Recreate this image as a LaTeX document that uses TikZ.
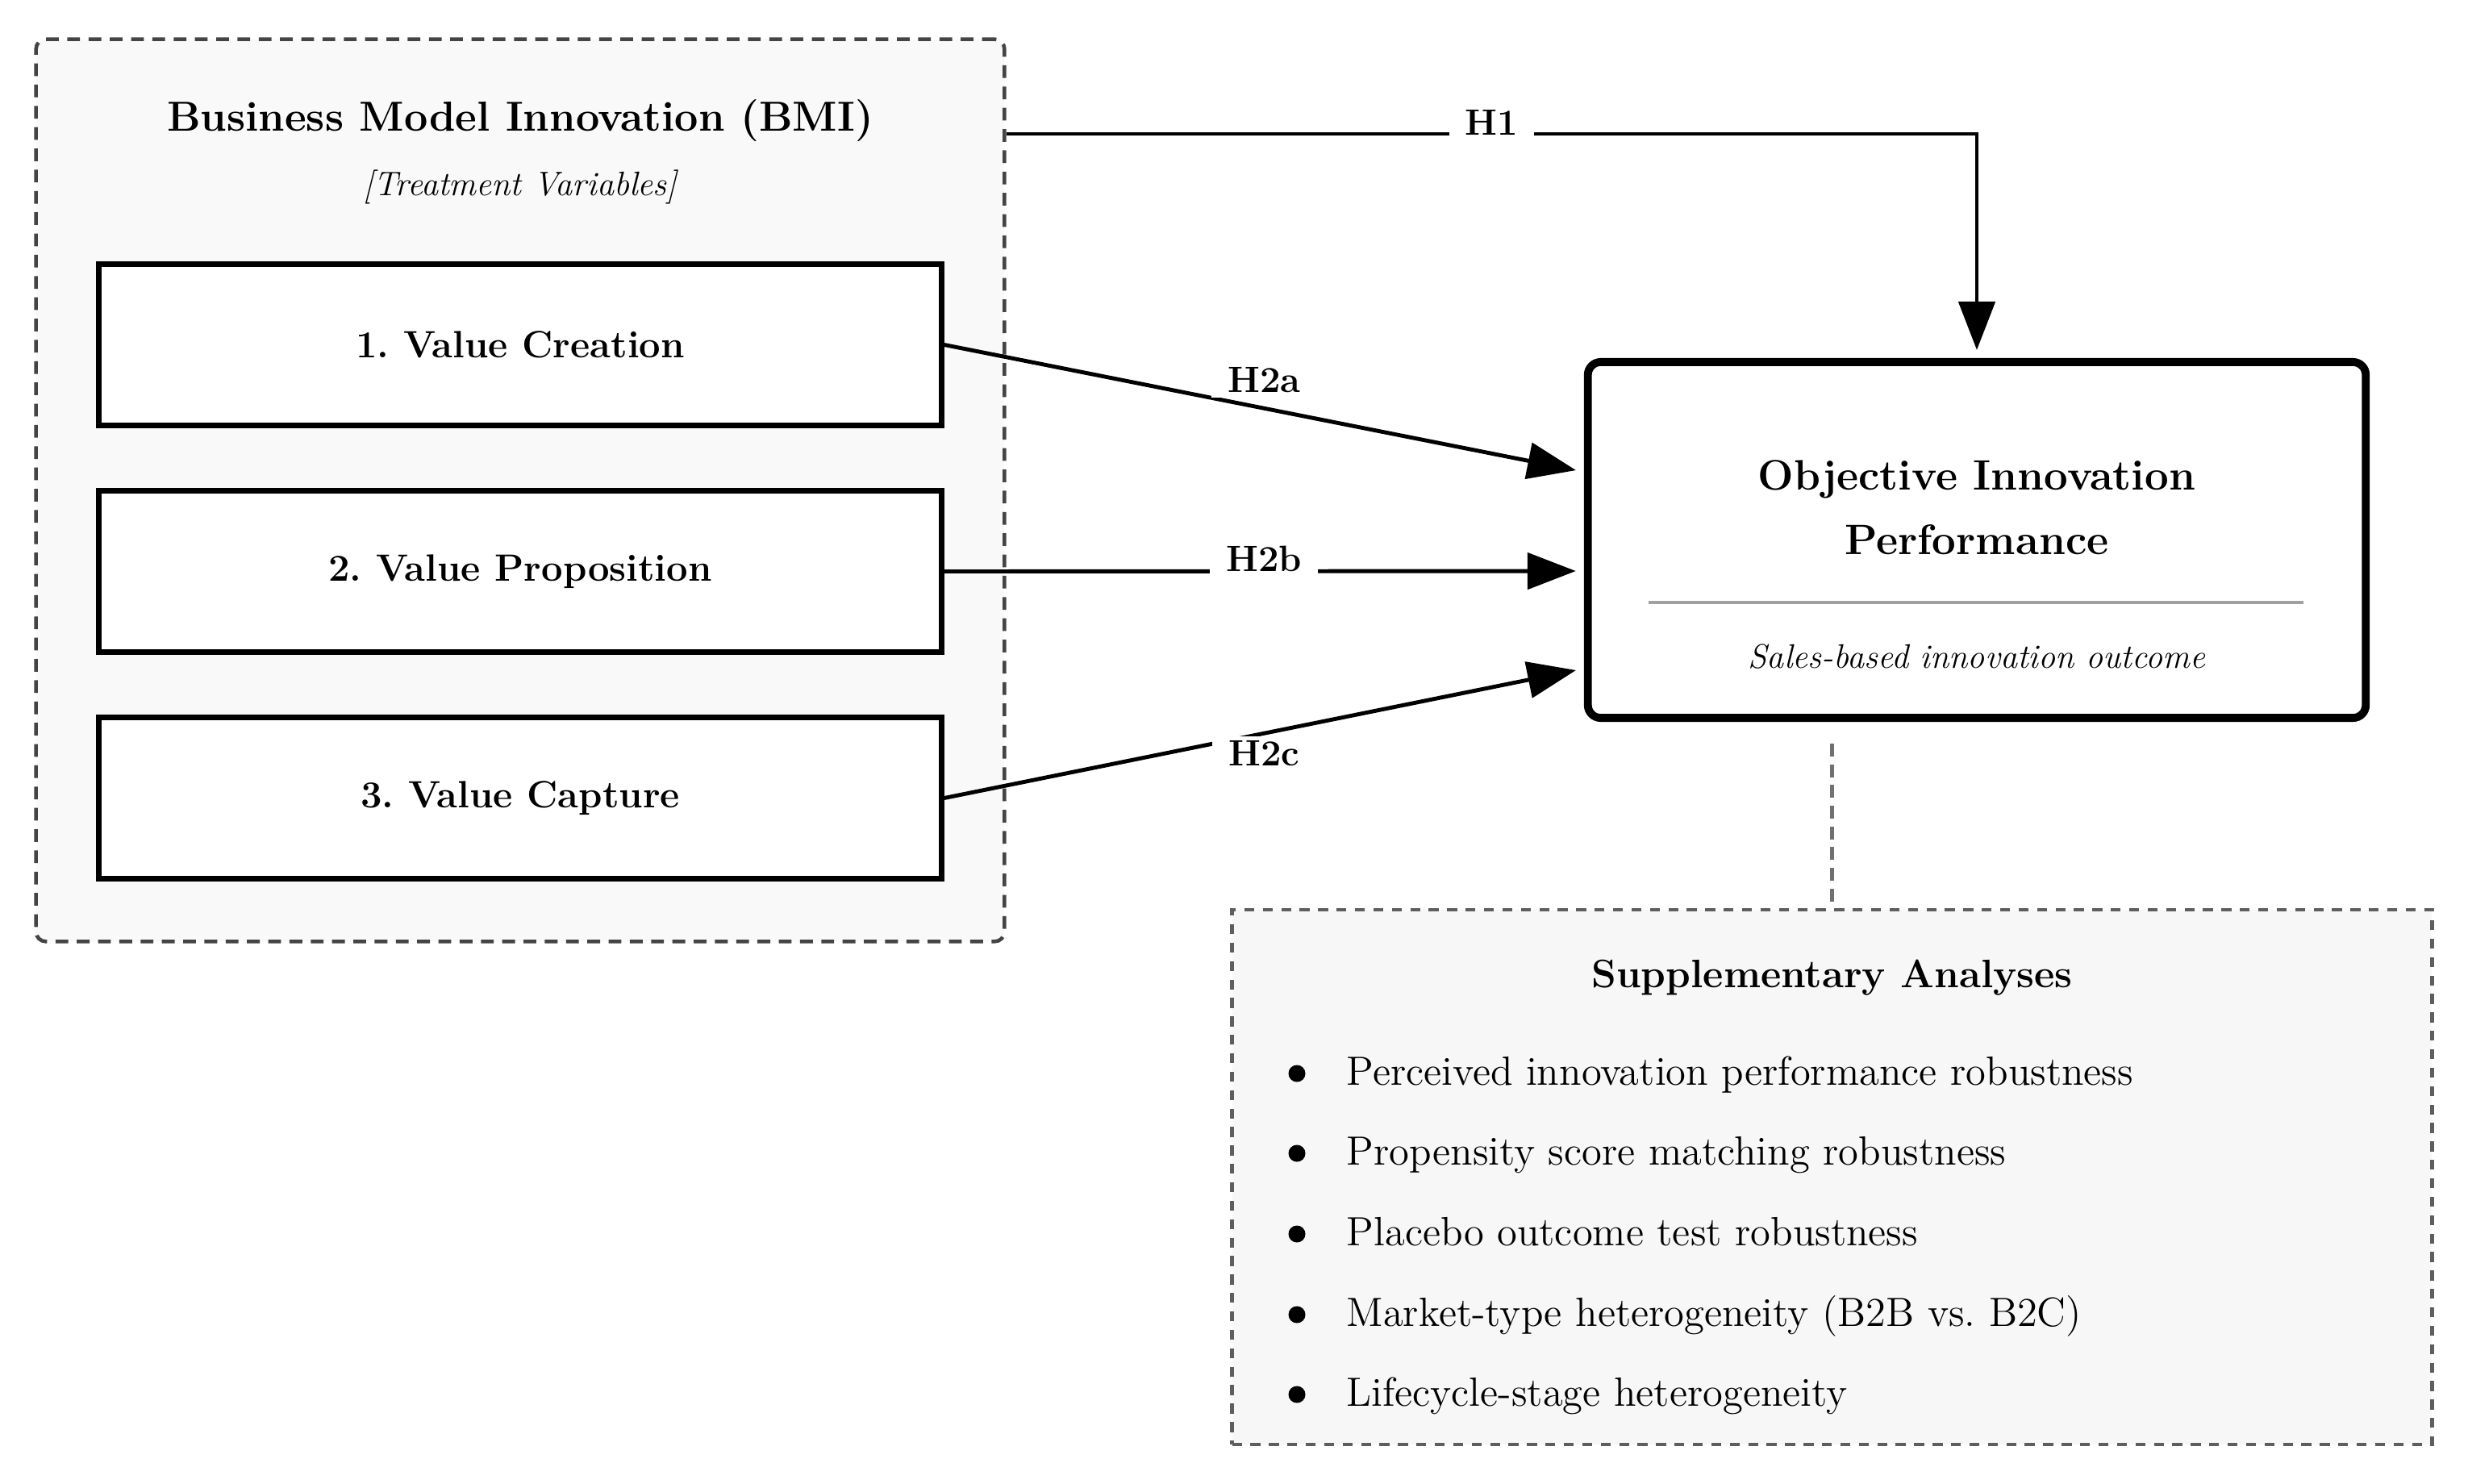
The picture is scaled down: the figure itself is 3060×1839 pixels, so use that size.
\documentclass[tikz,border=0pt]{standalone}
\usetikzlibrary{arrows.meta,calc}
\definecolor{bmifill}{HTML}{F9F9F9}
\definecolor{suppfill}{HTML}{F7F7F7}
\definecolor{dashdark}{HTML}{444444}
\definecolor{dashgray}{HTML}{5E5E5E}
\definecolor{conngray}{HTML}{707070}
\definecolor{rulegray}{HTML}{A0A0A0}
\begin{document}
\begin{tikzpicture}[x=0.01cm,y=-0.01cm,
  groupbox/.style={draw=dashdark, line width=1.3pt, dash pattern=on 4.5pt off 3pt, fill=bmifill, rounded corners=0.12cm, minimum width=12cm, minimum height=11.18cm, inner sep=0pt},
  dimbox/.style={draw=black, line width=2pt, fill=white, minimum width=10.44cm, minimum height=1.99cm, font={\fontsize{13.4}{16}\selectfont\bfseries}},
  outbox/.style={draw=black, line width=2.8pt, fill=white, rounded corners=0.16cm, minimum width=9.64cm, minimum height=4.41cm},
  suppbox/.style={draw=dashgray, line width=1.2pt, dash pattern=on 3.5pt off 3pt, fill=suppfill, minimum width=14.87cm, minimum height=6.63cm, inner sep=0pt},
  titletext/.style={font={\fontsize{14.8}{17}\selectfont\bfseries}},
  ittext/.style={font={\fontsize{12}{14}\selectfont\itshape}},
  itemtext/.style={anchor=base west, inner sep=0pt, font={\fontsize{14.4}{17}\selectfont}},
  arr/.style={-{Triangle[length=0.6cm,width=0.45cm]}, line width=1.4pt, shorten >=0.1cm},
  lbl/.style={fill=white, inner xsep=0.2cm, inner ysep=0.06cm, font={\fontsize{12.9}{15}\selectfont\bfseries}},
  conn/.style={draw=conngray, line width=1.2pt, dash pattern=on 4.5pt off 2.8pt, shorten <=0.27cm}
]
\useasboundingbox (0,0) rectangle (3060,1839);

% BMI group
\node[groupbox] (bmi) at (645,608) {};
\node[titletext] (bmititle) at (645,150) {Business Model Innovation (BMI)};
\node[ittext] (bmisub) at (645,232) {[Treatment Variables]};
\node[dimbox] (vc) at (645,427.5) {1.\ Value Creation};
\node[dimbox] (vp) at (645,708.5) {2.\ Value Proposition};
\node[dimbox] (vcap) at (645,989.5) {3.\ Value Capture};

% Outcome
\node[outbox] (obj) at (2451,669.5) {};
\node[align=center, font={\fontsize{15}{22.8}\selectfont\bfseries}] (objtitle) at (2451,629) {Objective Innovation\\Performance};
\draw[rulegray, line width=1pt] ($(obj.west)+(80,77.5)$) -- ($(obj.east)+(-82,77.5)$);
\node[ittext] (objsub) at (2451,814) {Sales-based innovation outcome};

% Supplementary
\node[suppbox] (supp) at (2271.5,1459.5) {};
\node[font={\fontsize{14}{16}\selectfont\bfseries}] (supptitle) at (2271.5,1212) {Supplementary Analyses};
\foreach \i/\yy/\txt in {1/1331/Perceived innovation performance robustness,
                          2/1430/Propensity score matching robustness,
                          3/1530/Placebo outcome test robustness,
                          4/1630/Market-type heterogeneity (B2B vs.\ B2C),
                          5/1729/Lifecycle-stage heterogeneity}{
  \fill (1608,\yy) circle[radius=0.105cm];
  \node[itemtext] (item\i) at (1669,\yy+14) {\txt};
}

% Connectors
\coordinate (h1y) at (0,166);
\coordinate (t2a) at ($(obj.west)+(0,-84.5)$);
\coordinate (t2b) at ($(obj.west)+(0,38.5)$);
\coordinate (t2c) at ($(obj.west)+(0,159.5)$);

\draw[arr] (bmi.east |- h1y) -| node[pos=0.25, lbl, yshift=0.14cm] {H1} (obj.north);
\draw[arr] (vc.east) -- node[midway, lbl, yshift=0.35cm] {H2a} (t2a);
\draw[arr] (vp.east) -- node[midway, lbl, yshift=0.15cm] {H2b} (t2b);
\draw[arr] (vcap.east) -- node[midway, lbl, yshift=-0.25cm] {H2c} (t2c);

\draw[conn] (supp.north |- obj.south) -- (supp.north);
\end{tikzpicture}
\end{document}
